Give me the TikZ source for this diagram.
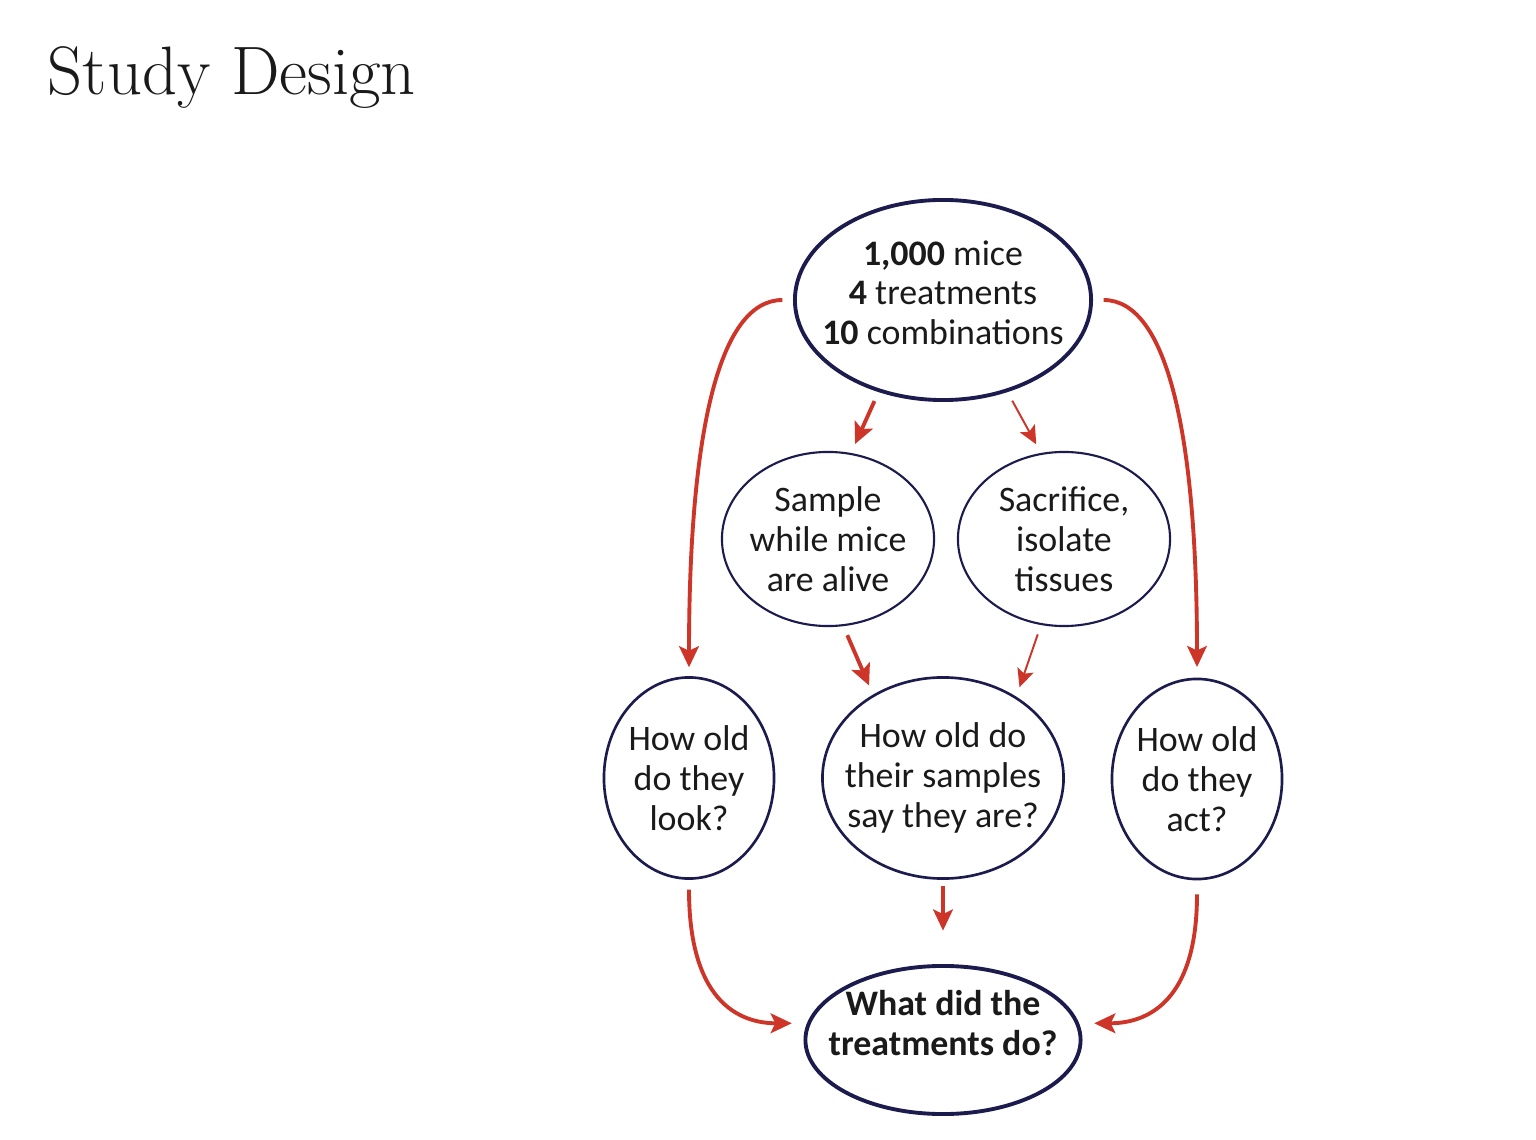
\documentclass[tikz,border=0pt]{standalone}
\usepackage{fontspec}
\newfontfamily\bodyfont{Carlito}
\usepackage{xcolor}
\usetikzlibrary{arrows.meta, shapes.geometric}
\definecolor{micenavy}{HTML}{1C1B4D}
\definecolor{flowred}{HTML}{CC3528}
\definecolor{inkblack}{HTML}{1A1A1A}

\begin{document}
\begin{tikzpicture}[x=0.01cm, y=-0.01cm,
    bubble/.style={draw=micenavy, ellipse, line width=0.75pt, inner sep=-5mm,
                   align=center, text=inkblack,
                   font=\bodyfont\fontsize{10.2}{11.3}\selectfont},
    arrow/.style={-{Stealth[length=6pt,width=5.6pt,inset=1.3pt]}, flowred, line width=1.1pt},
    tarrow/.style={-{Stealth[length=5.2pt,width=4.8pt,inset=1.1pt]}, flowred, line width=0.55pt}
  ]
    \useasboundingbox[fill=white] (0,0) rectangle (1536,1140);

    % Title
    \node[anchor=base west, inner sep=0pt, text=inkblack,
          font=\fontsize{19.5}{22}\selectfont] (title) at (47,95) {Study Design};

    % Start
    \node[bubble, line width=1.1pt, minimum width=2.96cm, minimum height=2cm] (top) at (943,300)
      {\textbf{1,000} mice\\\textbf{4} treatments\\\textbf{10} combinations\\[-0.25cm]};

    % Sampling
    \node[bubble, line width=0.6pt, minimum width=2.12cm, minimum height=1.74cm] (sample) at (828,539)
      {Sample\\while mice\\are alive};
    \node[bubble, line width=0.6pt, minimum width=2.12cm, minimum height=1.74cm] (sacrifice) at (1064,539)
      {Sacrifice,\\isolate\\tissues};

    % Questions
    \node[bubble, minimum width=1.7cm, minimum height=2.01cm] (look) at (689,778)
      {How old\\do they\\look?};
    \node[bubble, minimum width=2.41cm, minimum height=2.01cm] (samples) at (943,778)
      {How old do\\their samples\\say they are?};
    \node[bubble, minimum width=1.7cm, minimum height=2cm] (act) at (1197,779)
      {How old\\do they\\act?};

    % Result
    \node[bubble, line width=1.1pt, minimum width=2.75cm, minimum height=1.48cm] (result) at (943,1040)
      {\textbf{What did the}\\\textbf{treatments do?}\\[-0.06cm]};

    % Arrows
    \draw[arrow, shorten <=3pt, shorten >=2.5pt] (top.west) .. controls +(-75,0) and +(0,-240) .. (look.north);
    \draw[arrow, shorten <=3pt, shorten >=3pt] (top.east) .. controls +(75,0) and +(0,-240) .. (act.north);
    \draw[arrow, shorten <=2.8pt, shorten >=2.8pt] (top.-125) -- (sample.75);
    \draw[tarrow, shorten <=2.8pt, shorten >=2.8pt] (top.-55) -- (sacrifice.105);
    \draw[arrow, shorten <=2.8pt, shorten >=2.8pt] (sample.-80) -- (samples.130);
    \draw[tarrow, shorten <=2.8pt, shorten >=2.8pt] (sacrifice.-105) -- (samples.48);
    \draw[arrow, shorten <=1.7pt, shorten >=9.5pt] (samples.south) -- (result.north);
    \draw[arrow, shorten <=2.8pt, shorten >=4.3pt] (look.south) .. controls +(0,130) and +(-60,0) .. (result.173);
    \draw[arrow, shorten <=4pt, shorten >=4.3pt] (act.south) .. controls +(0,130) and +(60,0) .. (result.7);
  \end{tikzpicture}
\end{document}
